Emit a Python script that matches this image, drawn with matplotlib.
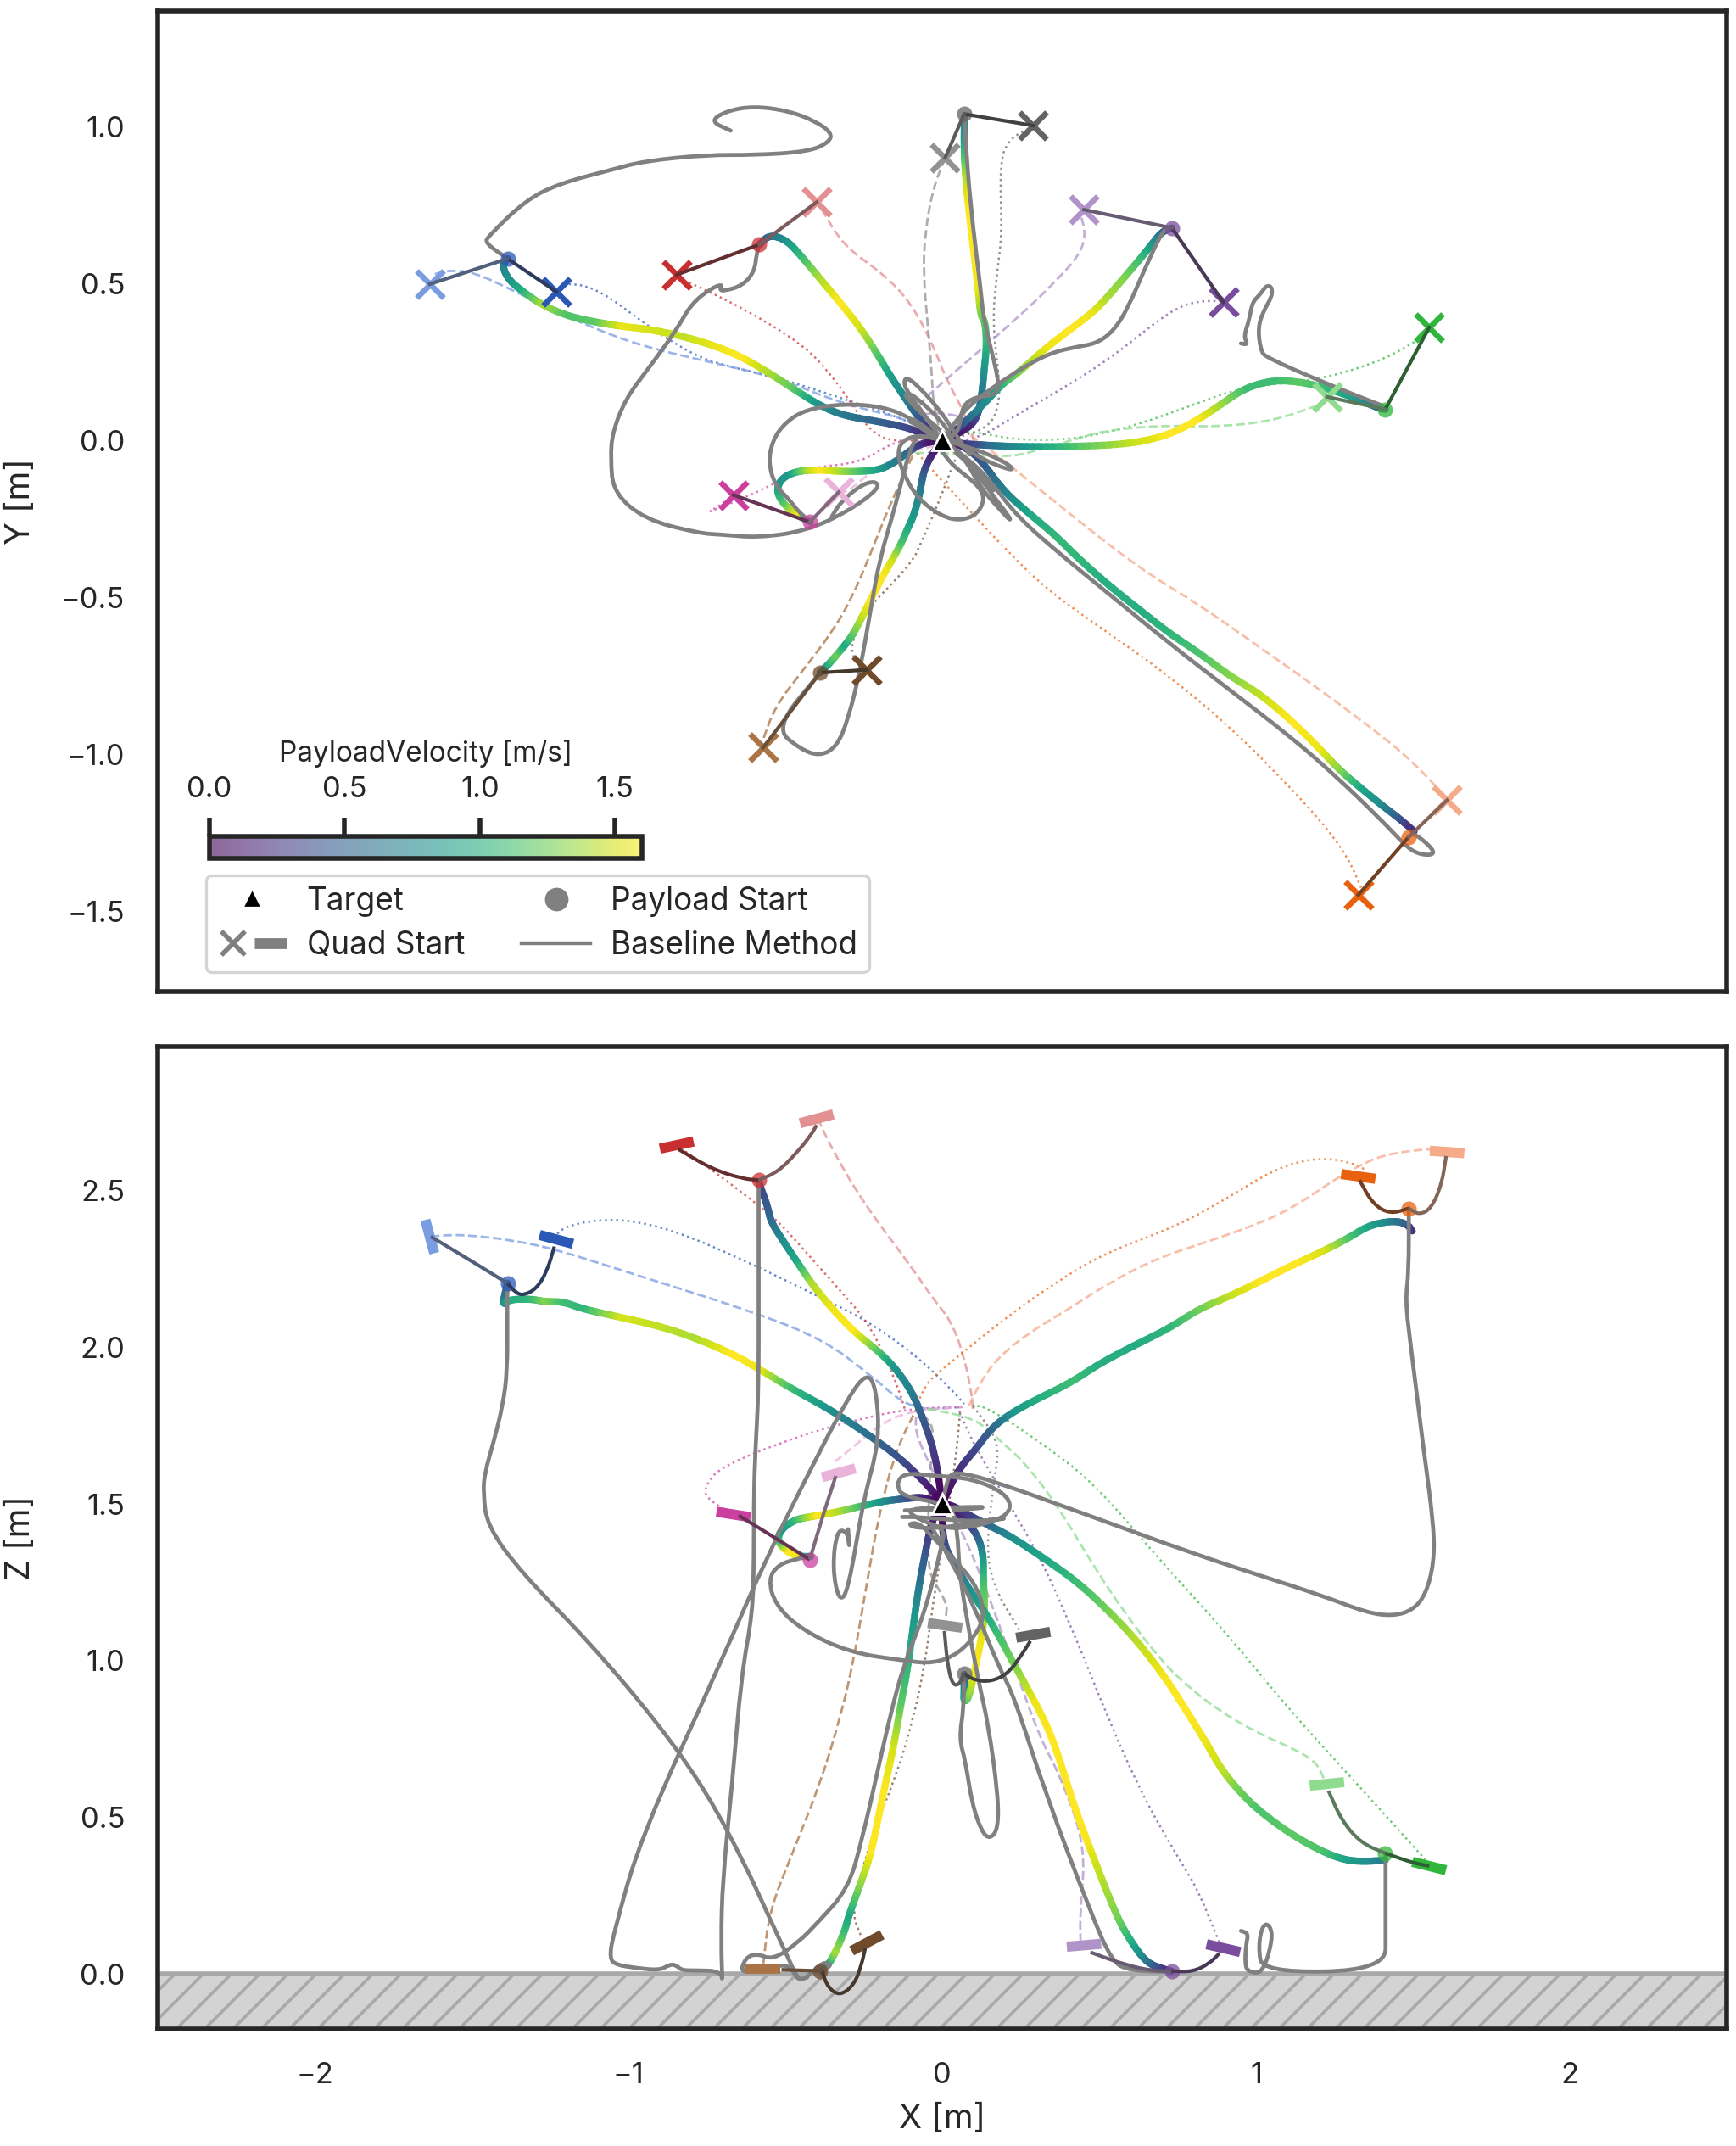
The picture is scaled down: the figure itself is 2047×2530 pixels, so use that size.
import matplotlib
matplotlib.use("Agg")
import matplotlib.pyplot as plt
import numpy as np
from matplotlib.bezier import BezierSegment
from matplotlib.cm import ScalarMappable
from matplotlib.collections import LineCollection
from matplotlib.colors import Normalize
from matplotlib.legend_handler import HandlerTuple
from matplotlib.lines import Line2D
from matplotlib.patches import PathPatch
from matplotlib.path import Path

plt.rcParams["font.family"] = ["Inter", "DejaVu Sans"]
plt.rcParams["axes.unicode_minus"] = True
plt.rcParams["hatch.linewidth"] = 1.3

# %% colours, one (dark, light) pair per start
names = ["blue", "red", "pink", "brown", "gray", "purple", "green", "orange"]
dark = ["#2b57b5", "#c92f31", "#cb3f9e", "#6f4a2b", "#636363", "#7a4c9d", "#2fb63b", "#e8610f"]
light = ["#7a9ce0", "#e39093", "#e9b3da", "#ab7446", "#929292", "#b094c9", "#8fdc91", "#f5aa8a"]

payload_x = [-1.385, -0.583, -0.422, -0.389, 0.07, 0.732, 1.412, 1.487]
payload_y = [0.579, 0.624, -0.26, -0.74, 1.04, 0.677, 0.099, -1.263]
payload_z = [2.205, 2.534, 1.323, 0.01, 0.959, 0.01, 0.386, 2.444]

# quad starts: dark then light of each pair
quad_x_dark = [-1.23, -0.846, -0.665, -0.24, 0.29, 0.896, 1.552, 1.326]
quad_y_dark = [0.474, 0.528, -0.174, -0.731, 1.003, 0.44, 0.36, -1.448]
quad_z_dark = [2.345, 2.646, 1.467, 0.1, 1.083, 0.083, 0.345, 2.546]
quad_tilt_dark = [-15, 12, -9, 28, 10, -13, -14, -8]
quad_x_light = [-1.633, -0.4, -0.33, -0.571, 0.009, 0.452, 1.226, 1.609]
quad_y_light = [0.498, 0.759, -0.165, -0.979, 0.9, 0.735, 0.139, -1.146]
quad_z_light = [2.354, 2.73, 1.6, 0.017, 1.113, 0.092, 0.607, 2.624]
quad_tilt_light = [-75, 15, 15, 0, -8, 5, 6, -4]

# %% payload paths, XY view: x, y, speed
blue_top = [(-1.385, .579, .3), (-1.403, .557, .7), (-1.382, .512, .8), (-1.339, .476, 1.0), (-1.275, .431, 1.4), (-1.19, .395, 1.15),
            (-1.105, .377, 1.2), (-1.019, .363, 1.55), (-.934, .354, 1.5), (-.827, .332, 1.45), (-.72, .3, 1.55), (-.635, .264, 1.6),
            (-.55, .214, 1.4), (-.475, .165, 1.2), (-.39, .111, .8), (-.315, .079, .65), (-.208, .061, .5), (-.101, .039, .35),
            (-.048, .012, .15), (0, 0, .05)]
red_top = [(-.582, .624, .3), (-.55, .656, .6), (-.496, .638, .8), (-.454, .593, 1.05), (-.39, .516, 1.4), (-.326, .44, 1.6), (-.261, .359, 1.5),
           (-.208, .277, 1.2), (-.165, .205, .9), (-.123, .142, .75), (-.08, .079, .5), (-.037, .025, .2), (0, 0, .05)]
pink_top = [(-.42, -.26, .2), (-.47, -.234, 1.6), (-.51, -.198, 1.2), (-.527, -.162, 1.0), (-.518, -.13, .85),
            (-.49, -.108, .85), (-.45, -.097, 1.2), (-.42, -.095, 1.45), (-.388, -.094, 1.6), (-.325, -.099, 1.4),
            (-.262, -.099, 1.15), (-.2, -.094, .9), (-.155, -.072, .7), (-.119, -.045, .6), (-.074, -.013, .3),
            (-.038, -.005, .1), (0, 0, .05)]
brown_top = [(-.389, -.74, .4), (-.362, -.713, 1.0), (-.335, -.682, 1.25), (-.308, -.65, .95), (-.285, -.619, 1.2), (-.254, -.56, 1.45), (-.227, -.506, 1.6),
             (-.191, -.434, 1.6), (-.159, -.38, 1.5), (-.128, -.323, 1.15), (-.11, -.28, 1.0),
             (-.092, -.243, .85), (-.074, -.18, .75), (-.065, -.13, .6), (-.056, -.09, .4), (-.033, -.045, .15), (0, 0, .05)]
gray_top = [(.07, 1.03, .6), (.07, .92, 1.05), (.075, .84, 1.4), (.083, .75, 1.6), (.104, .574, 1.6), (.115, .48, 1.55),
            (.122, .40, 1.3), (.137, .377, 1.2), (.142, .305, 1.05), (.133, .216, .8), (.124, .126, .6), (.11, .072, .4),
            (.088, .045, .2), (.052, .022, .1), (0, 0, .05)]
purple_top = [(.732, .677, .3), (.7, .665, .5), (.664, .62, .85), (.628, .575, 1.1), (.574, .512, 1.3), (.52, .449, 1.4), (.475, .404, 1.55), (.403, .35, 1.6),
              (.331, .295, 1.55), (.241, .214, 1.3), (.196, .184, 1.1), (.15, .135, .85), (.106, .09, .7), (.052, .04, .4), (.02, .015, .15), (0, 0, .05)]
green_top = [(1.412, .099, .4), (1.393, .102, .5), (1.321, .133, .85), (1.231, .165, 1.05), (1.141, .187, 1.2), (1.051, .192, 1.1), (.961, .165, 1.1), (.889, .115, 1.35),
             (.808, .061, 1.6), (.718, .016, 1.6), (.601, -.011, 1.45), (.421, -.02, 1.15), (.241, -.02, .8), (.15, -.016, .6), (.106, -.013, .4), (.05, -.01, .2), (0, 0, .05)]
orange_top = [(1.504, -1.245, .05), (1.456, -1.204, .4), (1.398, -1.16, .75), (1.331, -1.105, .95), (1.263, -1.047, 1.3), (1.205, -.984, 1.55), (1.109, -.889, 1.6),
              (1.013, -.808, 1.45), (.916, -.75, 1.3), (.82, -.678, 1.15), (.723, -.614, 1.05), (.627, -.538, 1.0), (.53, -.461, 1.0), (.434, -.376, 1.05), (.357, -.299, 1.05),
              (.27, -.227, .95), (.196, -.162, .7), (.124, -.063, .45), (.07, -.018, .2), (0, 0, .05)]

# %% payload paths, XZ view: x, z, speed
blue_bot = [(-1.386, 2.205, .4), (-1.402, 2.133, .75), (-1.381, 2.153, 1.0), (-1.313, 2.155, 1.05), (-1.265, 2.146, 1.3), (-1.207, 2.146, 1.1),
            (-1.149, 2.124, 1.05), (-1.024, 2.096, 1.5), (-.908, 2.07, 1.45), (-.793, 2.033, 1.4), (-.667, 1.979, 1.6), (-.581, 1.93, 1.55),
            (-.484, 1.871, 1.1), (-.359, 1.803, .8), (-.243, 1.727, .6), (-.137, 1.65, .4), (-.04, 1.555, .15), (0, 1.5, .05)]
red_bot = [(-.585, 2.529, .3), (-.556, 2.449, .45), (-.547, 2.404, .55), (-.513, 2.349, .75), (-.465, 2.277, .95), (-.417, 2.205, 1.4),
           (-.359, 2.133, 1.55), (-.282, 2.051, 1.6), (-.214, 1.997, 1.25), (-.156, 1.943, .85), (-.098, 1.862, .7), (-.06, 1.772, .45),
           (-.021, 1.654, .25), (0, 1.5, .05)]
pink_bot = [(-.42, 1.333, .2), (-.46, 1.333, 1.55), (-.5, 1.351, 1.6), (-.527, 1.387, 1.1), (-.51, 1.423, .85), (-.469, 1.45, 1.05),
            (-.43, 1.458, 1.35), (-.397, 1.464, 1.6), (-.325, 1.477, 1.4), (-.253, 1.495, 1.1), (-.19, 1.509, .8), (-.119, 1.518, .45),
            (-.056, 1.523, .15), (0, 1.5, .05)]
brown_bot = [(-.383, .01, .1), (-.363, .03, .9), (-.34, .07, 1.4), (-.31, .14, 1.1), (-.299, .183, .95), (-.263, .282, 1.3), (-.227, .382, 1.6),
             (-.191, .562, 1.6), (-.155, .725, 1.5), (-.132, .86, 1.2), (-.11, .977, 1.05), (-.083, 1.18, .8), (-.07, 1.26, .6), (-.056, 1.333, .45), (-.033, 1.45, .15), (0, 1.5, .05)]
gray_bot = [(.07, .956, .4), (.07, .90, .8), (.069, .869, 1.0), (.085, .88, 1.3), (.105, .977, 1.6), (.126, 1.077, 1.55), (.136, 1.158, 1.3), (.131, 1.266, 1.1),
            (.131, 1.338, .85), (.116, 1.393, .55), (.085, 1.438, .3), (.033, 1.483, .1), (0, 1.5, .05)]
purple_bot = [(.73, .01, .05), (.675, .025, .4), (.64, .05, .7), (.598, .11, 1.0), (.556, .183, 1.3), (.457, .436, 1.58), (.415, .553, 1.6), (.353, .752, 1.6),
              (.295, .87, 1.55), (.223, 1.0, 1.25), (.147, 1.14, 1.0), (.085, 1.23, .8), (.043, 1.302, .6), (.002, 1.375, .35), (0, 1.5, .05)]
green_bot = [(1.412, .364, .6), (1.345, .359, .8), (1.283, .364, .9), (1.211, .391, 1.15), (1.107, .449, 1.2), (1.004, .526, 1.15), (.942, .589, 1.25), (.89, .653, 1.45),
             (.839, .743, 1.55), (.777, .842, 1.6), (.715, .941, 1.58), (.632, 1.05, 1.45), (.55, 1.14, 1.3), (.436, 1.248, 1.1), (.322, 1.329, .95), (.219, 1.397, .8),
             (.147, 1.433, .55), (.085, 1.465, .3), (.033, 1.496, .15), (0, 1.5, .05)]
orange_bot = [(1.498, 2.372, .05), (1.482, 2.394, .4), (1.438, 2.405, .65), (1.36, 2.39, .9), (1.294, 2.349, 1.15), (1.217, 2.309, 1.5), (1.118, 2.264, 1.6), (1.019, 2.214, 1.6),
              (.908, 2.16, 1.45), (.82, 2.124, 1.25), (.721, 2.06, 1.05), (.611, 2.006, .98), (.5, 1.948, 1.0), (.412, 1.889, 1.1), (.302, 1.835, 1.0), (.225, 1.794, .85),
              (.159, 1.745, .55), (.104, 1.672, .35), (.061, 1.622, .25), (.025, 1.559, .1), (0, 1.5, .05)]

# %% baseline runs, XY view
blue_base_top = [(-1.385, .579), (-1.457, .629), (-1.446, .651), (-1.329, .764), (-1.222, .818), (-1.051, .863), (-.95, .89), (-.75, .91), (-.6, .909), (-.426, .92),
                 (-.36, .95), (-.352, .98), (-.404, 1.017), (-.49, 1.05), (-.6, 1.065), (-.687, 1.05), (-.74, 1.017), (-.674, .987)]
red_base_top = [(-.582, .624), (-.592, .593), (-.598, .539), (-.635, .494), (-.694, .476), (-.71, .48), (-.699, .498), (-.736, .485), (-.8, .435), (-.848, .35), (-.934, .232), (-1.009, .133), (-1.051, .025),
                (-1.057, -.056), (-1.048, -.165), (-.948, -.252), (-.774, -.296), (-.703, -.30), (-.586, -.31), (-.433, -.288), (-.298, -.225), (-.2, -.153), (-.213, -.128), (-.262, -.144), (-.325, -.198), (-.352, -.243)]
pink_base_top = [(-.42, -.26), (-.46, -.225), (-.487, -.189), (-.532, -.144), (-.554, -.072), (-.541, 0), (-.5, .058), (-.433, .099), (-.316, .117), (-.19, .108), (-.10, .072),
                 (-.056, .027), (0, 0), (-.074, .018), (-.128, 0), (-.144, -.045), (-.119, -.117), (-.074, -.189), (0, -.243), (.061, -.256), (.115, -.233), (.137, -.18), (.106, -.135),
                 (.034, -.081), (0, -.036)]
brown_base_top = [(-.389, -.74), (-.533, -.916), (-.452, -.984), (-.389, -1.006), (-.335, -.975), (-.299, -.885), (-.263, -.74), (-.227, -.533), (-.2, -.38), (-.146, -.198), (-.092, .018),
                  (-.04, .01), (0, 0), (-.056, .081), (-.11, .153), (-.123, .184), (-.114, .202), (-.074, .171), (-.002, .09), (.043, .018), (.088, -.045)]
gray_base_top = [(.07, 1.04), (.074, .965), (.09, .748), (.122, .487), (.133, .377), (.182, .189), (.173, .144), (.106, .139), (.066, .112), (.057, .054), (.043, .018), (0, 0),
                 (.106, -.027), (.196, -.067), (.227, -.09), (.214, -.094), (.133, -.063), (.061, -.018), (-.03, .05), (-.11, .13), (-.12, .15), (-.09, .145), (0, .06), (.03, .01)]
purple_base_top = [(.732, .677), (.705, .674), (.646, .548), (.592, .422), (.547, .35), (.493, .309), (.421, .297), (.34, .277), (.241, .223), (.106, .13), (.043, .063), (0, 0),
                   (.079, -.054), (.151, -.162), (.214, -.243), (.218, -.256), (.196, -.234), (.124, -.153), (.07, -.054), (.016, -.009)]
green_base_top = [(1.402, .111), (1.231, .178), (1.033, .264), (1.015, .286), (1.006, .359), (1.024, .413), (1.051, .458), (1.051, .489), (1.033, .494), (1.015, .467), (.988, .44), (.979, .386), (.961, .332), (.974, .305), (.952, .309)]
orange_base_top = [(1.487, -1.263), (1.504, -1.25), (1.567, -1.304), (1.562, -1.322), (1.514, -1.317), (1.475, -1.29), (1.40, -1.21), (1.254, -1.069), (1.109, -.943), (.916, -.795), (.723, -.646), (.53, -.488),
                   (.386, -.371), (.241, -.245), (.151, -.126), (.088, -.063), (0, 0), (.16, -.144), (.169, -.162), (.142, -.153), (.088, -.072), (0, 0), (-.074, .045), (-.11, .063), (-.092, .072), (0, 0)]

# %% baseline runs, XZ view
blue_base_bot = [(-1.386, 2.205), (-1.386, 2.1), (-1.386, 1.925), (-1.4, 1.817), (-1.429, 1.7), (-1.458, 1.6), (-1.463, 1.537), (-1.45, 1.43), (-1.34, 1.28), (-1.125, 1.06), (-.905, .80), (-.75, .58), (-.626, .345), (-.56, .20),
                 (-.487, .043), (-.458, -.02), (-.43, -.01)]
red_base_bot = [(-.585, 2.534), (-.585, 2.2), (-.585, 1.862), (-.595, 1.681), (-.6, 1.537), (-.6, 1.333), (-.604, 1.153), (-.64, .955), (-.67, .6), (-.70, .3), (-.705, .1), (-.70, -.03), (-.705, .01), (-.79, .012),
                (-.83, .012), (-.85, .03), (-.87, .03), (-.9, .012), (-.98, .02), (-1.04, .03), (-1.06, .05), (-1.05, .12), (-.96, .44), (-.703, 1.0), (-.56, 1.33), (-.40, 1.65), (-.3, 1.84), (-.24, 1.92), (-.21, 1.87),
                (-.2, 1.70), (-.25, 1.52), (-.3, 1.22), (-.33, 1.19), (-.35, 1.3), (-.335, 1.42), (-.3, 1.41), (-.295, 1.35), (-.3, 1.42)]
pink_base_bot = [(-.42, 1.333), (-.469, 1.324), (-.523, 1.306), (-.554, 1.261), (-.533, 1.18), (-.45, 1.1), (-.298, 1.027), (-.119, 1.0), (-.029, .991), (.054, 1.023), (.116, 1.095), (.136, 1.158), (.105, 1.248), (.033, 1.329),
                 (-.029, 1.393), (-.074, 1.441), (-.11, 1.437), (-.083, 1.423), (.016, 1.425), (.151, 1.45), (.219, 1.456), (.106, 1.443), (-.074, 1.459), (-.128, 1.459)]
brown_base_bot = [(-.383, .01), (-.35, .03), (-.38, .04), (-.43, -.01), (-.46, -.02), (-.48, .02), (-.51, .03), (-.55, .02), (-.644, 0), (-.628, .052), (-.59, .066), (-.54, .045), (-.46, .10), (-.396, .165), (-.299, .273),
                  (-.254, .436), (-.209, .634), (-.164, .833), (-.123, .986), (-.056, 1.153), (0, 1.37), (.007, 1.423), (-.074, 1.45), (-.119, 1.486), (.04, 1.49), (.167, 1.492), (.043, 1.48), (-.119, 1.48)]
gray_base_bot = [(.069, .959), (.069, .851), (.054, .752), (.074, .68), (.095, .544), (.126, .454), (.152, .431), (.178, .463), (.178, .571), (.147, .797), (.116, .932), (.074, 1.158), (.054, 1.293), (.049, 1.411), (.03, 1.5),
                 (-.128, 1.523), (-.146, 1.568), (-.119, 1.6), (-.029, 1.591), (.095, 1.582), (.198, 1.537), (.224, 1.487), (.178, 1.447), (.054, 1.42), (-.011, 1.43)]
purple_base_bot = [(.73, .01), (.72, .007), (.596, .012), (.542, .039), (.475, .192), (.331, .571), (.229, .887), (.178, .986), (.105, 1.167), (.023, 1.329), (-.03, 1.42)]
green_base_bot = [(1.413, .384), (1.413, .15), (1.413, .012), (1.02, .005), (1.007, .09), (1.022, .16), (1.045, .156), (1.053, .11), (1.022, .003), (.976, .007), (.965, .03), (.968, .093), (.976, .13), (.952, .138)]
orange_base_bot = [(1.487, 2.444), (1.487, 2.241), (1.476, 2.151), (1.493, 2.006), (1.51, 1.871), (1.531, 1.699), (1.567, 1.429), (1.567, 1.311), (1.541, 1.212), (1.5, 1.162), (1.438, 1.143), (1.355, 1.153), (1.211, 1.208),
                   (1.004, 1.275), (.798, 1.343), (.488, 1.456), (.178, 1.569), (.064, 1.6), (.023, 1.596), (.012, 1.555), (0, 1.5)]

# %% quad traces, XY view
blue_d_top = [(-1.19, .498), (-1.137, .494), (-1.062, .458), (-.955, .377), (-.848, .305), (-.742, .25), (-.528, .201), (-.315, .133), (-.101, .061), (0, 0)]
blue_l_top = [(-1.617, .53), (-1.564, .543), (-1.489, .534), (-1.382, .485), (-1.254, .422), (-1.115, .359), (-.955, .3), (-.742, .25), (-.528, .201), (-.315, .115), (-.101, .066), (0, 0)]
red_d_top = [(-.806, .503), (-.635, .422), (-.443, .305), (-.358, .214), (-.293, .124), (-.24, .043), (-.176, -.002), (-.08, 0), (0, 0)]
red_l_top = [(-.384, .737), (-.315, .62), (-.187, .53), (-.101, .44), (-.029, .305), (.007, .207), (.079, .072), (.11, -.027)]
pink_d_top = [(-.665, -.174), (-.72, -.215), (-.75, -.23), (-.71, -.215), (-.604, -.171), (-.532, -.135), (-.415, -.085), (-.262, -.072), (-.164, -.009), (-.074, .009), (0, 0)]
pink_l_top = [(-.33, -.17), (-.296, -.16), (-.226, -.099), (-.128, -.045), (-.074, -.027), (.079, 0)]
brown_d_top = [(-.281, -.691), (-.29, -.66), (-.276, -.614), (-.227, -.524), (-.155, -.452), (-.092, -.38), (-.074, -.341), (-.011, -.198), (.043, -.054), (.07, 0)]
brown_l_top = [(-.569, -.948), (-.533, -.849), (-.443, -.731), (-.353, -.614), (-.29, -.506), (-.236, -.38), (-.164, -.198), (-.092, -.045), (-.074, 0)]
gray_d_top = [(.29, 1.0), (.21, .96), (.183, .878), (.191, .66), (.174, .53), (.16, .377), (.182, .198), (.182, .126), (.16, .054), (.088, .018), (0, 0)]
gray_l_top = [(.009, .90), (-.03, .80), (-.055, .66), (-.06, .53), (-.047, .377), (-.033, .216), (-.029, .117), (0, 0)]
purple_d_top = [(.889, .444), (.817, .444), (.745, .422), (.646, .35), (.556, .277), (.421, .187), (.241, .084), (.106, 0), (0, 0)]
purple_l_top = [(.444, .71), (.457, .656), (.439, .593), (.367, .512), (.241, .39), (.016, .198), (-.074, .117), (-.09, .075), (-.03, .09), (.07, .076), (.09, .05)]
green_d_top = [(1.52, .323), (1.412, .259), (1.231, .2), (1.051, .178), (.925, .16), (.781, .106), (.601, .043), (.421, .003), (.241, 0), (.088, .031), (0, .02)]
green_l_top = [(1.195, .111), (1.051, .061), (.871, .043), (.691, .048), (.511, .03), (.421, .003), (.286, -.038), (.196, -.054), (.016, -.04), (-.092, -.04)]
orange_d_top = [(1.335, -1.425), (1.292, -1.326), (1.205, -1.209), (1.061, -1.056), (.916, -.912), (.723, -.75), (.53, -.614), (.337, -.479), (.196, -.341), (.106, -.243), (-.02, -.108), (-.083, -.036)]
orange_l_top = [(1.572, -1.101), (1.495, -1.02), (1.398, -.939), (1.205, -.795), (1.013, -.66), (.82, -.524), (.627, -.407), (.386, -.218), (.196, -.063), (.088, .018)]

# %% quad traces, XZ view
blue_d_bot = [(-1.227, 2.363), (-1.198, 2.387), (-1.101, 2.408), (-.976, 2.405), (-.812, 2.358), (-.59, 2.259), (-.397, 2.164), (-.243, 2.088), (-.089, 1.979), (.025, 1.871), (.07, 1.82)]
blue_l_bot = [(-1.63, 2.354), (-1.56, 2.36), (-1.487, 2.356), (-1.39, 2.345), (-1.246, 2.318), (-1.005, 2.241), (-.59, 2.11), (-.378, 2.024), (-.233, 1.916), (-.098, 1.799), (.06, 1.81)]
red_d_bot = [(-.848, 2.646), (-.725, 2.561), (-.59, 2.457), (-.523, 2.404), (-.426, 2.295), (-.33, 2.187), (-.243, 2.088), (-.185, 1.979), (-.137, 1.862), (-.118, 1.799)]
red_l_bot = [(-.396, 2.73), (-.35, 2.63), (-.25, 2.46), (-.10, 2.26), (-.029, 2.155), (.026, 2.088), (.065, 1.988), (.093, 1.862), (.098, 1.799)]
pink_d_bot = [(-.665, 1.467), (-.755, 1.52), (-.755, 1.56), (-.703, 1.622), (-.451, 1.72), (-.253, 1.775), (-.092, 1.806), (.07, 1.81)]
pink_l_bot = [(-.343, 1.635), (-.28, 1.685), (-.208, 1.748), (-.11, 1.797), (.061, 1.81)]
brown_d_bot = [(-.26, .125), (-.29, .201), (-.227, .436), (-.146, .634), (-.092, .815), (-.056, .986), (-.038, 1.117), (-.02, 1.243), (.016, 1.468), (.043, 1.64), (.057, 1.793)]
brown_l_bot = [(-.57, .034), (-.551, .201), (-.479, .382), (-.389, .607), (-.326, .815), (-.285, .986), (-.244, 1.225), (-.2, 1.477), (-.146, 1.676), (-.083, 1.802)]
gray_d_bot = [(.245, 1.099), (.157, 1.248), (.141, 1.384), (.167, 1.582), (.183, 1.699), (.097, 1.815)]
gray_l_bot = [(.012, 1.144), (.016, 1.18), (-.02, 1.243), (-.047, 1.297), (-.042, 1.568), (-.029, 1.712), (-.033, 1.757), (-.074, 1.797)]
purple_d_bot = [(.883, .102), (.813, .273), (.767, .346), (.642, .562), (.529, .815), (.436, 1.05), (.322, 1.311), (.229, 1.474), (.095, 1.699), (.05, 1.81)]
purple_l_bot = [(.441, .102), (.439, .192), (.457, .409), (.376, .634), (.312, .752), (.232, .977), (.126, 1.266), (.064, 1.411), (-.074, 1.694), (-.087, 1.757), (-.078, 1.80)]
green_d_bot = [(1.541, .364), (1.314, .616), (1.107, .842), (.901, 1.095), (.694, 1.32), (.488, 1.564), (.312, 1.699), (.142, 1.81), (.097, 1.815)]
green_l_bot = [(1.216, .625), (1.19, .68), (1.107, .725), (1.004, .77), (.88, .842), (.777, .923), (.694, 1.005), (.591, 1.14), (.488, 1.293), (.364, 1.501), (.26, 1.636), (.188, 1.699), (.106, 1.775), (-.056, 1.806)]
orange_d_bot = [(1.344, 2.57), (1.294, 2.593), (1.217, 2.604), (1.129, 2.593), (1.03, 2.552), (.908, 2.476), (.743, 2.385), (.523, 2.304), (.357, 2.205), (.192, 2.087), (.06, 1.979), (-.029, 1.907), (-.056, 1.874), (-.083, 1.81)]
orange_l_bot = [(1.609, 2.624), (1.555, 2.636), (1.405, 2.615), (1.327, 2.579), (1.261, 2.543), (1.129, 2.453), (1.019, 2.399), (.853, 2.34), (.688, 2.286), (.545, 2.214), (.39, 2.115), (.269, 2.042), (.181, 1.97), (.126, 1.898), (.082, 1.808)]

# %% cables in the XZ view hang slack
blue_c_d = [(-1.386, 2.205), (-1.357, 2.173), (-1.333, 2.167), (-1.294, 2.187), (-1.26, 2.241), (-1.236, 2.322)]
blue_c_l = [(-1.386, 2.205), (-1.487, 2.268), (-1.63, 2.354)]
red_c_d = [(-.585, 2.534), (-.638, 2.539), (-.735, 2.57), (-.841, 2.633)]
red_c_l = [(-.585, 2.534), (-.523, 2.561), (-.465, 2.62), (-.421, 2.674), (-.4, 2.71)]
pink_c_d = [(-.422, 1.323), (-.532, 1.392), (-.649, 1.464)]
pink_c_l = [(-.422, 1.323), (-.379, 1.468), (-.339, 1.59)]
brown_c_d = [(-.383, .01), (-.365, -.042), (-.326, -.07), (-.28, -.033), (-.257, .03), (-.245, .084)]
brown_c_l = [(-.512, .014), (-.383, .01)]
gray_c_d = [(.069, .959), (.105, .937), (.157, .934), (.209, .959), (.25, 1.014), (.281, 1.063)]
gray_c_l = [(.007, 1.095), (.017, .986), (.033, .923), (.054, .923), (.069, .959)]
purple_c_d = [(.73, .01), (.797, .007), (.852, .034), (.883, .066)]
purple_c_l = [(.472, .07), (.581, .03), (.673, .01), (.73, .01)]
green_c_d = [(1.412, .386), (1.5, .355), (1.552, .345)]
green_c_l = [(1.231, .585), (1.273, .49), (1.335, .418), (1.412, .386)]
orange_c_d = [(1.33, 2.534), (1.372, 2.458), (1.427, 2.426), (1.487, 2.444)]
orange_c_l = [(1.487, 2.444), (1.52, 2.423), (1.559, 2.444), (1.592, 2.521), (1.606, 2.611)]

payload_top = [blue_top, red_top, pink_top, brown_top, gray_top, purple_top, green_top, orange_top]
payload_bot = [blue_bot, red_bot, pink_bot, brown_bot, gray_bot, purple_bot, green_bot, orange_bot]
base_top = [blue_base_top, red_base_top, pink_base_top, brown_base_top, gray_base_top, purple_base_top, green_base_top, orange_base_top]
base_bot = [blue_base_bot, red_base_bot, pink_base_bot, brown_base_bot, gray_base_bot, purple_base_bot, green_base_bot, orange_base_bot]
trace_d_top = [blue_d_top, red_d_top, pink_d_top, brown_d_top, gray_d_top, purple_d_top, green_d_top, orange_d_top]
trace_l_top = [blue_l_top, red_l_top, pink_l_top, brown_l_top, gray_l_top, purple_l_top, green_l_top, orange_l_top]
trace_d_bot = [blue_d_bot, red_d_bot, pink_d_bot, brown_d_bot, gray_d_bot, purple_d_bot, green_d_bot, orange_d_bot]
trace_l_bot = [blue_l_bot, red_l_bot, pink_l_bot, brown_l_bot, gray_l_bot, purple_l_bot, green_l_bot, orange_l_bot]
cable_d = [blue_c_d, red_c_d, pink_c_d, brown_c_d, gray_c_d, purple_c_d, green_c_d, orange_c_d]
cable_l = [blue_c_l, red_c_l, pink_c_l, brown_c_l, gray_c_l, purple_c_l, green_c_l, orange_c_l]

QUAD_HALF = 0.055
W, H = 2047., 2530.
TEXT = "#262626"
norm = Normalize(0, 1.6)
cmap = plt.get_cmap("viridis")


def curve(pts):
    # quadratic beziers through the midpoints, the points act as control points
    p = np.asarray(pts, float)[:, :2]
    if len(p) < 3:
        return Path(p)
    mid = (p[:-1] + p[1:]) / 2
    verts, codes = [p[0], mid[0]], [Path.MOVETO, Path.LINETO]
    for c, m in zip(p[1:-1], mid[1:]):
        verts += [c, m]
        codes += [Path.CURVE3, Path.CURVE3]
    verts.append(p[-1])
    codes.append(Path.LINETO)
    return Path(verts, codes)


def draw_line(ax, pts, **kw):
    ax.add_patch(PathPatch(curve(pts), fill=False, **kw))


def draw_speed(ax, pts, lw=3.0, zorder=3):
    # the same bezier pieces as curve(), each stroked with a short colour ramp between its speeds
    p = np.asarray(pts, float)
    mid = (p[:-1, :2] + p[1:, :2]) / 2
    segs, speeds = [[p[0, :2], mid[0]]], [(p[0, 2] + p[1, 2]) / 2]
    for k in range(1, len(p) - 1):
        bez = BezierSegment(np.array([mid[k - 1], p[k, :2], mid[k]]))
        ts = np.linspace(0, 1, 9)
        xy = bez(ts)
        vs = np.where(ts < .5, p[k - 1, 2] + (p[k, 2] - p[k - 1, 2]) * (ts + .5), p[k, 2] + (p[k + 1, 2] - p[k, 2]) * (ts - .5))
        for a, b, v in zip(xy[:-1], xy[1:], vs):
            segs.append([a, b])
            speeds.append(v)
    segs.append([mid[-1], p[-1, :2]])
    speeds.append(p[-1, 2])
    col = LineCollection(segs, colors=cmap(norm(np.array(speeds))), linewidths=lw, capstyle="round", zorder=zorder)
    ax.add_collection(col, autolim=False)


def darken(c, f=0.35):
    r = np.array(matplotlib.colors.to_rgb(c))
    return tuple(r * f + 30 / 255)


fig = plt.figure(figsize=(W / 200, H / 200), dpi=200, facecolor="white")
ax1 = fig.add_axes([186 / W, 1 - 1169 / H, 1850 / W, 1156 / H])
ax2 = fig.add_axes([186 / W, 1 - 2392 / H, 1850 / W, 1158 / H])

for ax in (ax1, ax2):
    ax.set_xlim(-2.5, 2.5)
    for s in ax.spines.values():
        s.set_linewidth(2)
        s.set_color(TEXT)
    ax.tick_params(length=0, labelsize=12.4, labelcolor=TEXT, pad=14)
ax1.set_ylim(-1.756, 1.368)
ax2.set_ylim(-0.175, 2.96)
ax1.set_xticks([])
ax1.set_yticks([-1.5, -1, -.5, 0, .5, 1])
ax1.set_yticklabels(["\u22121.5", "\u22121.0", "\u22120.5", "0.0", "0.5", "1.0"])
ax2.set_xticks([-2, -1, 0, 1, 2])
ax2.set_xticklabels(["\u22122", "\u22121", "0", "1", "2"])
ax2.set_yticks([0, .5, 1, 1.5, 2, 2.5])
ax1.set_ylabel("Y [m]", fontsize=14.3, color=TEXT)
ax2.set_ylabel("Z [m]", fontsize=14.3, color=TEXT)
ax1.yaxis.set_label_coords(-0.0775, 0.5)
ax2.yaxis.set_label_coords(-0.0775, 0.5)
ax2.set_xlabel("X [m]", fontsize=14.3, color=TEXT, labelpad=6)

# floor
ax2.axhspan(-1, 0, facecolor="lightgray", edgecolor="darkgray", hatch="//", linewidth=2, zorder=0.5)

for i in range(8):
    # quad traces
    draw_line(ax1, trace_d_top[i], edgecolor=dark[i], lw=0.9, ls=":", alpha=0.7, zorder=2)
    draw_line(ax1, trace_l_top[i], edgecolor=light[i], lw=1, ls="--", alpha=0.75, zorder=2)
    draw_line(ax2, trace_d_bot[i], edgecolor=dark[i], lw=0.9, ls=":", alpha=0.7, zorder=2)
    draw_line(ax2, trace_l_bot[i], edgecolor=light[i], lw=1, ls="--", alpha=0.75, zorder=2)

    # payload speed ribbons, baseline on top
    draw_speed(ax1, payload_top[i])
    draw_speed(ax2, payload_bot[i])
    draw_line(ax1, base_top[i], edgecolor="gray", lw=1.7, zorder=4, capstyle="round", joinstyle="round")
    draw_line(ax2, base_bot[i], edgecolor="gray", lw=1.7, zorder=4, capstyle="round", joinstyle="round")

    # starts
    for ax, px, py in ((ax1, payload_x[i], payload_y[i]), (ax2, payload_x[i], payload_z[i])):
        ax.plot(px, py, "o", ms=6.5, mew=0, color=dark[i], alpha=0.75, zorder=6)

    ax1.plot([quad_x_dark[i]], [quad_y_dark[i]], "x", ms=11.5, mew=2.4, color=dark[i], zorder=6)
    ax1.plot([quad_x_light[i]], [quad_y_light[i]], "x", ms=11.5, mew=2.4, color=light[i], zorder=6)
    for qx, qz, t, c in ((quad_x_dark[i], quad_z_dark[i], quad_tilt_dark[i], dark[i]),
                         (quad_x_light[i], quad_z_light[i], quad_tilt_light[i], light[i])):
        dx = QUAD_HALF * np.cos(np.radians(t))
        dz = QUAD_HALF * np.sin(np.radians(t))
        ax2.plot([qx - dx, qx + dx], [qz - dz, qz + dz], color=c, lw=4.3, solid_capstyle="butt", zorder=6)

    # cables
    ax1.plot([payload_x[i], quad_x_dark[i]], [payload_y[i], quad_y_dark[i]], color=darken(dark[i]), lw=1.5, zorder=7)
    ax1.plot([payload_x[i], quad_x_light[i]], [payload_y[i], quad_y_light[i]], color=darken(light[i], 0.42), lw=1.5, zorder=7)
    draw_line(ax2, cable_d[i], edgecolor=darken(dark[i]), lw=1.5, zorder=7)
    draw_line(ax2, cable_l[i], edgecolor=darken(light[i], 0.42), lw=1.5, zorder=7)

ax1.plot(0, 0, "^", ms=8.5, color="black", mec="white", mew=1, zorder=9)
ax2.plot(0, 1.5, "^", ms=8.5, color="black", mec="white", mew=1, zorder=9)

# speed scale
cax = fig.add_axes([247 / W, 1 - 1012 / H, 510 / W, 26 / H])
sm = ScalarMappable(norm=norm, cmap=cmap)
cb = fig.colorbar(sm, cax=cax, orientation="horizontal", alpha=0.6, ticks=[0, .5, 1, 1.5])
cb.outline.set_linewidth(2)
cb.outline.set_edgecolor(TEXT)
cax.xaxis.set_ticks_position("top")
cax.xaxis.set_label_position("top")
cax.tick_params(length=8, width=2, color=TEXT, labelsize=12.4, labelcolor=TEXT, pad=6)
cb.set_label("PayloadVelocity [m/s]", fontsize=12, color=TEXT, labelpad=6)

handles = [Line2D([], [], marker="^", ls="", color="black", ms=5),
           (Line2D([], [], marker="x", ls="", color="gray", ms=10, mew=2),
            Line2D([], [], ls="-", color="gray", lw=4.6, solid_capstyle="butt")),
           Line2D([], [], marker="o", ls="", color="gray", ms=10, mew=0),
           Line2D([], [], ls="-", color="gray", lw=1.6)]
labels = ["Target", "Quad Start", "Payload Start", "Baseline Method"]
leg = fig.legend(handles, labels, ncol=2, loc="lower left", bbox_to_anchor=(243 / W, 1 - 1146 / H), borderaxespad=0,
                 fontsize=13.3, frameon=True, columnspacing=1.82, labelspacing=0.42, handletextpad=0.65, handlelength=2.2,
                 borderpad=0.36, handler_map={tuple: HandlerTuple(ndivide=None, pad=0.15)})
for t in leg.get_texts():
    t.set_color(TEXT)
leg.get_frame().set_edgecolor("#d4d4d4")
leg.get_frame().set_linewidth(1.2)
leg.get_frame().set_alpha(1)

fig.savefig("out.png", dpi=200)
